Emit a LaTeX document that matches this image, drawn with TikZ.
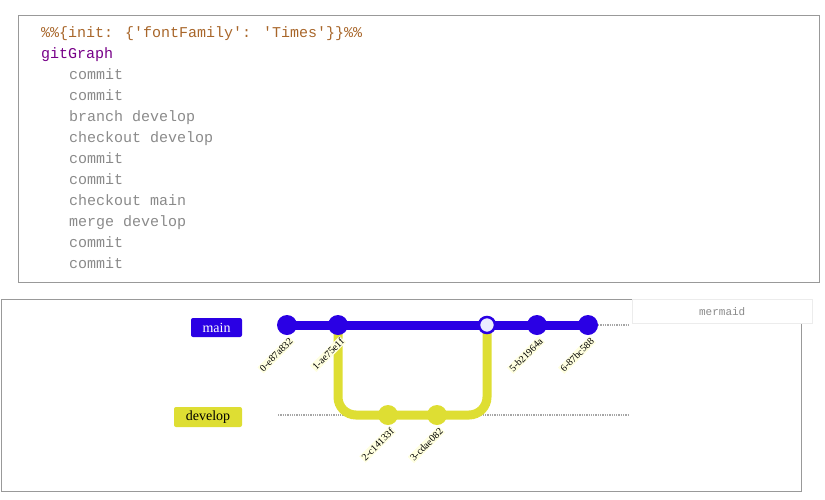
\documentclass[tikz,border=0pt]{standalone}
\usepackage{fontspec}
\setmainfont{Liberation Serif}
\newfontfamily\codefont{Liberation Mono}
\begin{document}
\begin{tikzpicture}[x=1pt,y=-1pt,
  code/.style={anchor=base west,font=\codefont\fontsize{15}{17}\selectfont,text=cmd,inner sep=0},
  commitm/.style={circle,fill=gmain,minimum size=20pt,inner sep=0},
  commitd/.style={circle,fill=gdev,minimum size=20pt,inner sep=0},
  clabel/.style={rotate=45,anchor=east,fill=lbl,font=\fontsize{10}{11}\selectfont,inner sep=1pt},
  dots/.style={gray!70,densely dotted,line width=1.3pt}]
\definecolor{cmd}{HTML}{8A8A8A}
\definecolor{meta}{HTML}{A8662A}
\definecolor{kw}{HTML}{770088}
\definecolor{gmain}{HTML}{2A00E4}
\definecolor{gdev}{HTML}{DEDE33}
\definecolor{lbl}{HTML}{FFFFE0}
\useasboundingbox (0,0) rectangle (825,499);
\draw[gray!80] (18,15) rectangle (819,282);
\node[code,text=meta] (l0) at (41,37) {\%\%\{init: \{'fontFamily': 'Times'\}\}\%\%};
\node[code,text=kw] (l1) at (41,58) {gitGraph};
\foreach \t [count=\i] in {commit,commit,branch develop,checkout develop,commit,commit,checkout main,merge develop,commit,commit}
  \node[code] (c\i) at (69,{58+21*\i}) {\t};
\draw[gray!80] (1,299) rectangle (801,491);
\node[fill=white,draw=gray!15,minimum width=180pt,minimum height=24pt,anchor=north west,font=\codefont\fontsize{11}{12}\selectfont,text=cmd] (mm) at (632,299) {mermaid};
\draw[dots] (278,415) -- (628,415);
\draw[dots] (598,325) -- (630,325);
\coordinate (m0) at (287,325); \coordinate (m1) at (338,325); \coordinate (mg) at (487,325);
\coordinate (m5) at (537,325); \coordinate (m6) at (588,325);
\coordinate (d2) at (388,415); \coordinate (d3) at (437,415);
\draw[gdev,line width=9pt,rounded corners=18pt] (m1) -- (338,415) -- (487,415) -- (mg);
\draw[gmain,line width=9pt] (m0) -- (m6);
\foreach \n in {m0,m1,m5,m6} \node[commitm] (n\n) at (\n) {};
\node[circle,draw=gmain,line width=2.5pt,fill=blue!8,minimum size=16pt,inner sep=0] (nmg) at (mg) {};
\node[commitd] (nd2) at (d2) {};
\node[commitd] (nd3) at (d3) {};
\node[fill=gmain,text=white,rounded corners=2pt,minimum width=51pt,minimum height=19pt,inner sep=0,font=\fontsize{14}{15}\selectfont] (bm) at (216.5,327.5) {main};
\node[fill=gdev,rounded corners=2pt,minimum width=68pt,minimum height=20pt,inner sep=0,font=\fontsize{14}{15}\selectfont] (bd) at (208,417) {develop};
\node[clabel] at (292,339) {0-e87a832};
\node[clabel] at (343,339) {1-ae75e1f};
\node[clabel] at (542,339) {5-b21964a};
\node[clabel] at (593,339) {6-87bc588};
\node[clabel] at (393,429) {2-c14133f};
\node[clabel] at (442,429) {3-cdae082};
\end{tikzpicture}
\end{document}
